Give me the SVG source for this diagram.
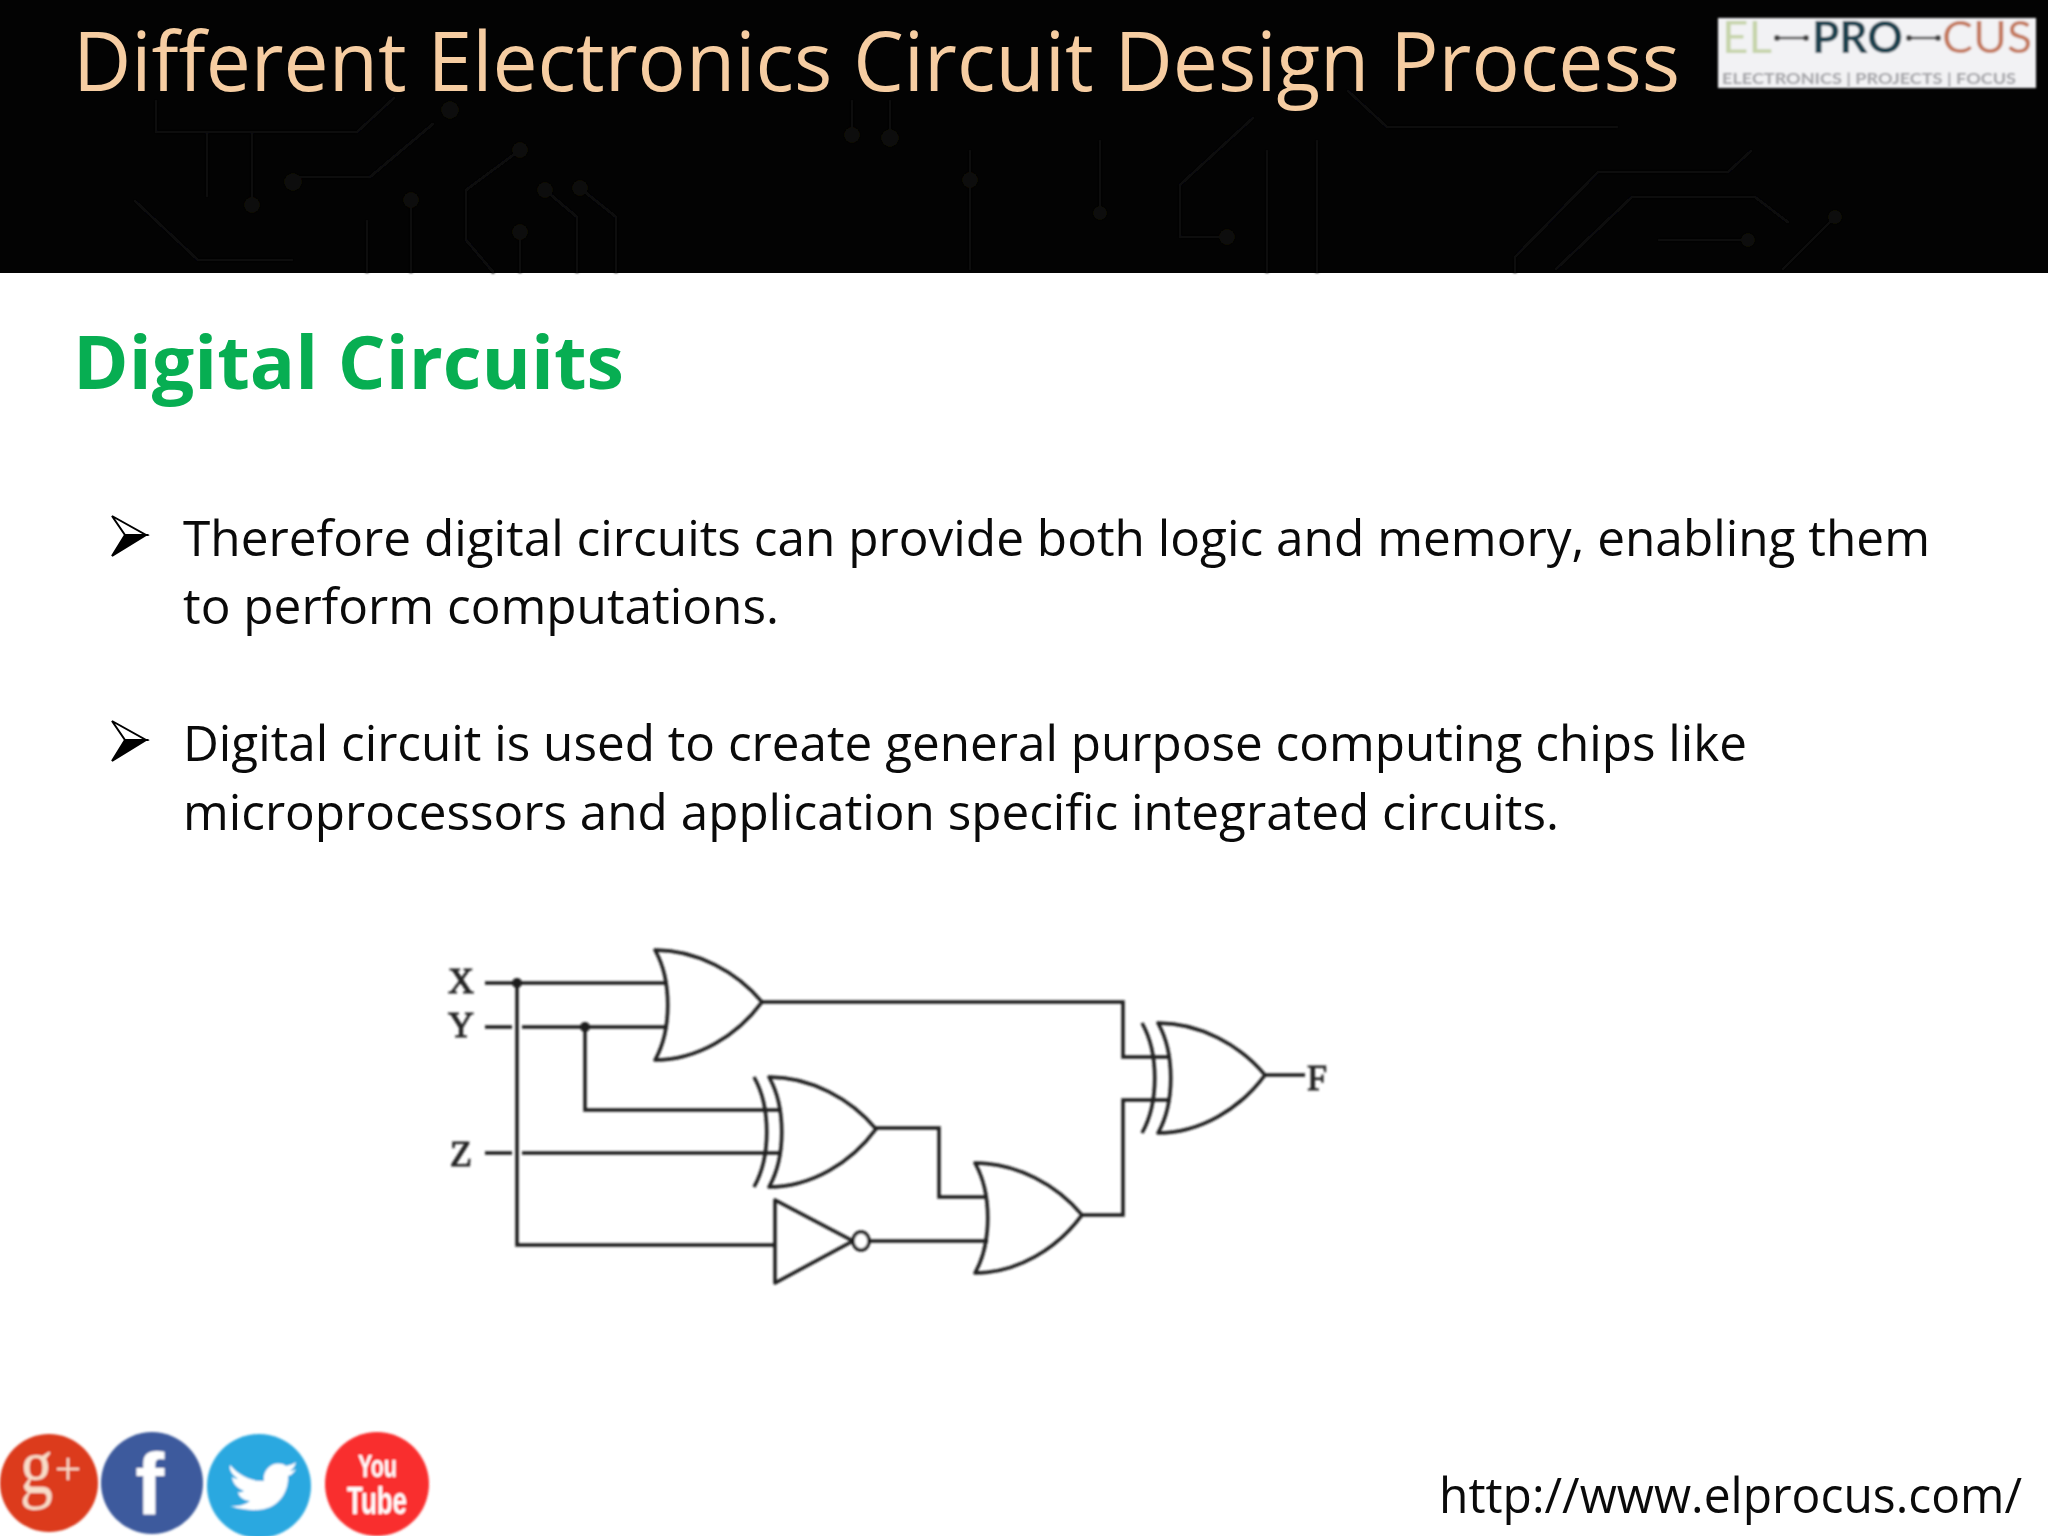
<svg xmlns="http://www.w3.org/2000/svg" width="2048" height="1536" viewBox="0 0 2048 1536">
<style>
.body{font-family:"Open Sans","Noto Sans",sans-serif;font-size:50px;fill:#0a0a0a}
.wire{fill:none;stroke:#1a1a1a;stroke-width:3.5}
.gate{fill:#fff;stroke:#1a1a1a;stroke-width:3.5;stroke-linejoin:round}
.lab{font-family:"Liberation Serif",serif;font-size:36px;fill:#222;stroke:#222;stroke-width:1;text-anchor:middle}
.ic{fill:#fff}
.tr{fill:none;stroke:#09090b;stroke-width:3}
.bl{fill:#0c0b07}
</style>
<defs>
<filter id="soft" x="-5%" y="-5%" width="110%" height="110%"><feGaussianBlur stdDeviation="0.8"/></filter>
<filter id="softer" x="-5%" y="-20%" width="110%" height="140%"><feGaussianBlur stdDeviation="1.2"/></filter>
<path id="or" d="M0,0C42,0 82,22 107,52C82,86 42,110 0,110C17,80 17,30 0,0Z"/>
<path id="xarc" d="M0,0C17,30 17,80 0,110"/>
<g id="bullet"><path d="M0,0L34,19L13,19Z" fill="#fff" stroke="#000" stroke-width="2" stroke-linejoin="miter"/><path d="M0,40L34,19L13,19Z" fill="#000" stroke="#000" stroke-width="2"/></g>
</defs>
<rect width="2048" height="1536" fill="#fff"/>
<g id="header">
<rect width="2048" height="273" fill="#030303"/>
<g id="header-traces" filter="url(#soft)">
<path class="tr" d="M156,100V132H357L395,97M207,132V197M252,132V210M434,123L370,177H293M520,150L466,190V240L494,273M580,188L616,217V273M545,190L577,217V273M134,200L198,260H293M411,200V273M367,220V273M520,232V273M970,150V270M890,100V138M852,100V135"/>
<path class="tr" d="M1347,90L1387,127H1618M1100,140V213M1254,117L1180,185V237H1227M1267,150V273M1317,140V273M1752,150L1728,172H1598L1515,257V273M1755,197H1632L1555,270M1755,197L1789,223M1658,240H1748M1835,217L1782,270"/>
<g class="bl"><circle cx="252" cy="205" r="8"/><circle cx="293" cy="182" r="9"/><circle cx="450" cy="110" r="9"/><circle cx="520" cy="150" r="8"/><circle cx="580" cy="188" r="8"/><circle cx="545" cy="190" r="8"/><circle cx="411" cy="200" r="8"/><circle cx="520" cy="232" r="8"/><circle cx="970" cy="180" r="8"/><circle cx="890" cy="138" r="9"/><circle cx="852" cy="135" r="8"/><circle cx="1100" cy="213" r="7"/><circle cx="1227" cy="237" r="8"/><circle cx="1748" cy="240" r="7"/><circle cx="1835" cy="217" r="7"/></g>
</g>
<text x="73" y="91" font-family="'Open Sans','Noto Sans',sans-serif" font-size="82" fill="#f6cda2" textLength="1607" lengthAdjust="spacingAndGlyphs">Different Electronics Circuit Design Process</text>
</g>
<g id="logo" filter="url(#soft)">
<rect x="1718" y="18" width="318" height="70" fill="#f2f2f4"/>
<text x="1722" y="53" font-family="Lato,sans-serif" font-size="44" fill="#c6d4aa" textLength="50" lengthAdjust="spacingAndGlyphs">EL</text>
<text x="1812" y="53" font-family="Lato,sans-serif" font-size="44" font-weight="700" fill="#1f4250" textLength="91" lengthAdjust="spacingAndGlyphs">PRO</text>
<text x="1942" y="53" font-family="Lato,sans-serif" font-size="44" fill="#c47a5e" textLength="90" lengthAdjust="spacingAndGlyphs">CUS</text>
<path d="M1776,38H1807M1908,38H1939" stroke="#444" stroke-width="2.5"/>
<circle cx="1777" cy="38" r="3" fill="#444"/><circle cx="1806" cy="38" r="3" fill="#444"/><circle cx="1909" cy="38" r="3" fill="#444"/><circle cx="1938" cy="38" r="3" fill="#444"/>
</g>
<text id="logo-tag" x="1722" y="84" font-family="Lato,sans-serif" font-size="16" font-weight="700" fill="#a5a5a9" textLength="294" lengthAdjust="spacingAndGlyphs" filter="url(#softer)">ELECTRONICS | PROJECTS | FOCUS</text>
<text id="subtitle" x="73" y="389" font-family="'Open Sans','Noto Sans',sans-serif" font-weight="700" font-size="73" fill="#07ae52" textLength="551" lengthAdjust="spacingAndGlyphs">Digital Circuits</text>
<g id="bullets">
<use href="#bullet" x="112" y="516"/>
<text class="body" x="183" y="556" textLength="1747" lengthAdjust="spacingAndGlyphs">Therefore digital circuits can provide both logic and memory, enabling them</text>
<text class="body" x="183" y="624" textLength="596" lengthAdjust="spacingAndGlyphs">to perform computations.</text>
<use href="#bullet" x="112" y="721"/>
<text class="body" x="183" y="761" textLength="1564" lengthAdjust="spacingAndGlyphs">Digital circuit is used to create general purpose computing chips like</text>
<text class="body" x="183" y="830" textLength="1376" lengthAdjust="spacingAndGlyphs">microprocessors and application specific integrated circuits.</text>
</g>
<g id="circuit" filter="url(#soft)">
<g id="connectors">
<path class="wire" d="M485,983H665"/>
<path class="wire" d="M485,1027H512M522,1027H665"/>
<path class="wire" d="M485,1153H512M522,1153H781"/>
<path class="wire" d="M517,983V1245H774"/>
<path class="wire" d="M585,1027V1110H781"/>
<path class="wire" d="M762,1002H1123V1057H1169"/>
<path class="wire" d="M875,1128H939V1197H986"/>
<path class="wire" d="M869,1241H988"/>
<path class="wire" d="M1083,1215H1123V1100H1169"/>
<path class="wire" d="M1266,1075H1305"/>
<circle cx="517" cy="983" r="5" fill="#1a1a1a"/>
<circle cx="585" cy="1027" r="5" fill="#1a1a1a"/>
</g>
<g id="gate-or-1"><use href="#or" x="655" y="950" class="gate" style="fill:none"/></g>
<g id="gate-xor-2"><use href="#or" x="769" y="1077" class="gate" style="fill:none"/><use href="#xarc" x="754" y="1077" class="wire"/></g>
<g id="gate-not"><path class="gate" d="M775,1200V1283L853,1241Z" style="fill:none"/><ellipse class="gate" cx="861" cy="1241" rx="8" ry="9"/></g>
<g id="gate-or-3"><use href="#or" x="975" y="1163" class="gate" style="fill:none"/></g>
<g id="gate-xor-4"><use href="#or" x="1158" y="1023" class="gate" style="fill:none"/><use href="#xarc" x="1142" y="1023" class="wire"/></g>
<text class="lab" x="461" y="993">X</text>
<text class="lab" x="461" y="1037">Y</text>
<text class="lab" x="461" y="1166">Z</text>
<text class="lab" x="1317" y="1090">F</text>
</g>
<g id="social" filter="url(#soft)">
<g id="google"><circle cx="49" cy="1483" r="49" fill="#dc3a1f"/><text x="20" y="1493" font-family="'Liberation Serif',serif" font-size="80" fill="#f8dcc8" textLength="33" lengthAdjust="spacingAndGlyphs">g</text><path d="M68,1458V1480M57,1469H79" stroke="#f8dcc8" stroke-width="2.5"/></g>
<g id="facebook"><circle cx="152" cy="1483" r="51" fill="#3c5a9d"/><text x="135" y="1514" font-family="'Liberation Sans',sans-serif" font-weight="700" font-size="88" class="ic">f</text></g>
<g id="twitter"><circle cx="259" cy="1486" r="52" fill="#2aa8e0"/><path class="ic" d="M230,1465C240,1477 254,1482 264,1481C262,1468 276,1459 286,1466C290,1465 294,1464 296,1462C295,1466 293,1469 290,1471C292,1471 294,1470 296,1469C294,1472 292,1475 288,1476C289,1492 278,1510 256,1510C246,1510 236,1508 230,1506C240,1507 246,1504 250,1501C243,1500 239,1497 238,1492C240,1493 242,1492 244,1491C237,1488 233,1484 232,1477C234,1478 236,1479 238,1479C233,1475 229,1471 230,1465Z"/></g>
<g id="youtube"><circle cx="377" cy="1484" r="52" fill="#f92f2f"/><text x="358" y="1477" font-family="'Liberation Sans',sans-serif" font-weight="700" font-size="31" class="ic" textLength="39" lengthAdjust="spacingAndGlyphs">You</text><text x="347" y="1514" font-family="'Liberation Sans',sans-serif" font-weight="700" font-size="38" class="ic" textLength="60" lengthAdjust="spacingAndGlyphs">Tube</text></g>
</g>
<text id="url" x="1439" y="1513" font-family="'Open Sans','Noto Sans',sans-serif" font-size="50" fill="#0a0a0a" textLength="583" lengthAdjust="spacingAndGlyphs">http://www.elprocus.com/</text>
</svg>
